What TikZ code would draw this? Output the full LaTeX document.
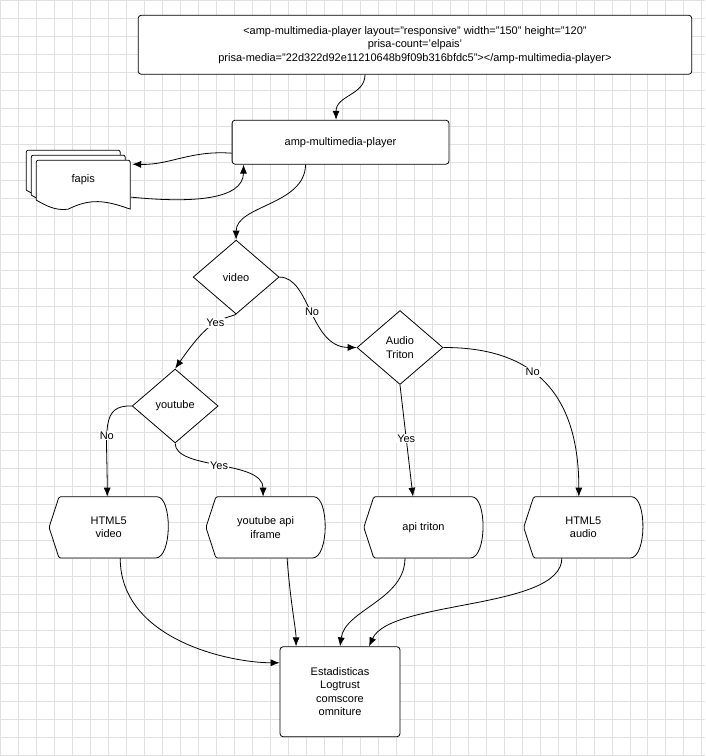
\documentclass[tikz,border=0pt]{standalone}
\usepackage{fontspec}
\setmainfont{Liberation Sans}
\usetikzlibrary{shapes.geometric, arrows.meta}

\begin{document}
\begin{tikzpicture}[x=1pt, y=-1pt,
    font=\fontsize{11}{13.5}\selectfont,
    box/.style = {draw, thick, rounded corners=3pt, align=center, inner sep=0pt},
    choice/.style = {draw, thick, diamond, aspect=1.16, minimum width=86pt, minimum height=74pt, inner sep=0pt, align=center},
    disp/.style = {minimum width=119pt, minimum height=61pt, inner sep=0pt, align=center},
    link/.style = {thick, -{Latex[length=9pt, width=7pt]}},
    lbl/.style = {fill=white, inner sep=1pt}
  ]
  % background grid
  \fill[white] (0,0) rectangle (705,756);
  \draw[black!12, line width=0.6pt] (0,0) grid[step=18pt] (705,756);
  \useasboundingbox (0,0) rectangle (705,756);

  % nodes
  \node[box, fill=white, minimum width=554pt, minimum height=59pt] (tag) at (415,44.5)
    {<amp-multimedia-player layout="responsive" width="150" height="120"\\
     prisa-count='elpais'\\
     prisa-media="22d322d92e11210648b9f09b316bfdc5"></amp-multimedia-player>};
  \node[box, fill=white, minimum width=217pt, minimum height=44pt] (amp) at (340.5,142) {amp-multimedia-player};

  % fapis: stacked documents
  \foreach \d in {10,5,0} {
    \draw[thick, fill=white, rounded corners=2pt]
      (36-\d,200-\d) -- (36-\d,160-\d) -- (130-\d,160-\d) [sharp corners] -- (130-\d,209-\d)
      .. controls (105-\d,200-\d) and (90-\d,198-\d) .. (68-\d,209-\d)
      .. controls (55-\d,211-\d) and (45-\d,205-\d) .. (36-\d,200-\d);
  }
  \node (fapis) at (83,180) {fapis};
  \coordinate (fapisin) at (132,164);
  \coordinate (fapisout) at (131,197);

  \node[choice, fill=white] (video) at (236,277) {video};
  \node[choice, fill=white] (audio) at (400,347.5) {Audio\\Triton};
  \node[choice, fill=white] (yt) at (175,406) {youtube};

  % display shapes
  \foreach \n/\x/\t in {hv/108.5/{HTML5\\video}, ya/265.5/{youtube api\\iframe}, at/423.5/{api triton}, ha/583.5/{HTML5\\audio}} {
    \node[disp] (\n) at (\x,527.5) {\t};
    \draw[thick, fill=white, rounded corners=1.5pt]
      ([xshift=10pt]\n.north west) -- ([xshift=-13pt]\n.north east) [sharp corners]
      .. controls ([xshift=4pt]\n.north east) and ([xshift=4pt]\n.south east) .. ([xshift=-13pt]\n.south east)
      [rounded corners=1.5pt] -- ([xshift=10pt]\n.south west) -- (\n.west) -- cycle;
    \node[disp] at (\x,527.5) {\t};
  }

  \node[box, fill=white, minimum width=120pt, minimum height=90pt] (stats) at (340,692)
    {Estadisticas\\Logtrust\\comscore\\omniture};

  % connectors
  \draw[link] ([xshift=-50pt]tag.south) .. controls (365,95) and (336,95) .. ([xshift=-4.5pt]amp.north);
  \draw[link] ([yshift=-11pt]amp.west) .. controls (190,150) and (170,165) .. (fapisin);
  \draw[link] (fapisout) .. controls (190,203) and (243,200) .. ([xshift=-97pt]amp.south);
  \draw[link] ([xshift=-35pt]amp.south) .. controls (305,205) and (236,205) .. (video.north);
  \draw[link] (video.south) .. controls (220,320) and (210,318) .. node[lbl, pos=0.45] {Yes} (yt.north);
  \draw[link] (video.east) .. controls (310,277) and (310,347) .. node[lbl, pos=0.5] {No} (audio.west);
  \draw[link] (yt.west) .. controls (100,405) and (107,430) .. node[lbl, pos=0.6] {No} ([xshift=-1.5pt]hv.north);
  \draw[link] (yt.south) .. controls (175,470) and (263,460) .. node[lbl, pos=0.5] {Yes} ([xshift=-2.5pt]ya.north);
  \draw[link] (audio.south) -- node[lbl, pos=0.48] {Yes} ([xshift=-10.5pt]at.north);
  \draw[link] (audio.east) .. controls (540,347) and (579,400) .. node[lbl, pos=0.4] {No} ([xshift=-4.5pt]ha.north);
  \draw[link] ([xshift=11.5pt]hv.south) .. controls (120,640) and (230,663) .. ([yshift=29pt]stats.west);
  \draw[link] ([xshift=21.5pt]ya.south) .. controls (290,600) and (296,630) .. ([xshift=-44pt]stats.north);
  \draw[link] ([xshift=-18.5pt]at.south) .. controls (405,600) and (345,610) .. ([xshift=0pt]stats.north);
  \draw[link] ([xshift=-21.5pt]ha.south) .. controls (562,610) and (390,600) .. ([xshift=29pt]stats.north);
\end{tikzpicture}
\end{document}
